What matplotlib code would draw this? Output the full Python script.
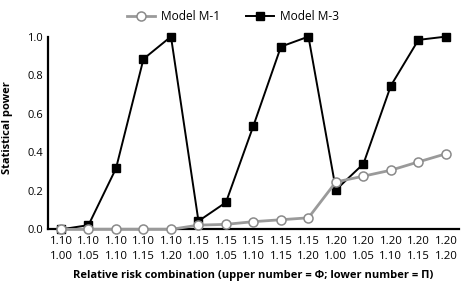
import matplotlib
matplotlib.use("Agg")
import matplotlib.pyplot as plt

upper = ["1.10"] * 5 + ["1.15"] * 5 + ["1.20"] * 5
lower = ["1.00", "1.05", "1.10", "1.15", "1.20"] * 3
tick_labels = [f"{u}\n{l}" for u, l in zip(upper, lower)]

m1 = [0.0, 0.0, 0.0, 0.0, 0.0, 0.022, 0.026, 0.04, 0.05, 0.06,
      0.246, 0.276, 0.307, 0.35, 0.392]
m3 = [0.0, 0.022, 0.316, 0.884, 1.0, 0.043, 0.14, 0.538, 0.948, 1.0,
      0.205, 0.34, 0.746, 0.983, 1.0]

plt.rcParams['font.family'] = ['Open Sans', 'DejaVu Sans']

fig = plt.figure(figsize=(4.74, 2.86), dpi=100)
ax = fig.add_axes([0.102, 0.198, 0.866, 0.674])

x = list(range(len(m1)))
ax.plot(x, m1, color='#9a9a9a', lw=2, marker='o', ms=6.5,
        mfc='white', mec='#8a8a8a', mew=1.1, label='Model M-1', clip_on=False, zorder=3)
ax.plot(x, m3, color='black', lw=1.4, marker='s', ms=6,
        mfc='black', mec='black', label='Model M-3', clip_on=False, zorder=2)

ax.set_xlim(-0.46, 14.47)
ax.set_ylim(0, 1.0)
ax.set_yticks([0, 0.2, 0.4, 0.6, 0.8, 1.0])
ax.set_yticklabels(["0.0", "0.2", "0.4", "0.6", "0.8", "1.0"], fontsize=8)
ax.set_xticks(x)
ax.set_xticklabels(tick_labels, fontsize=8.2, linespacing=1.45)
ax.tick_params(axis='both', length=0, pad=4)
ax.tick_params(axis='x', pad=5)
for s in ['top', 'right']:
    ax.spines[s].set_visible(False)
for s in ['left', 'bottom']:
    ax.spines[s].set_linewidth(1.6)

ax.set_ylabel("Statistical power", fontsize=8, fontweight='bold', labelpad=6)
ax.yaxis.set_label_coords(-0.085, 0.53)
ax.set_xlabel("Relative risk combination (upper number = Φ; lower number = Π)",
              fontsize=8, fontweight='bold', labelpad=6)

ax.legend(loc='lower center', bbox_to_anchor=(0.45, 1.045), ncol=2, frameon=False,
          fontsize=8.6, handlelength=2.3, handletextpad=0.5, columnspacing=2.2,
          borderaxespad=0)

fig.savefig("out.png", dpi=100)
